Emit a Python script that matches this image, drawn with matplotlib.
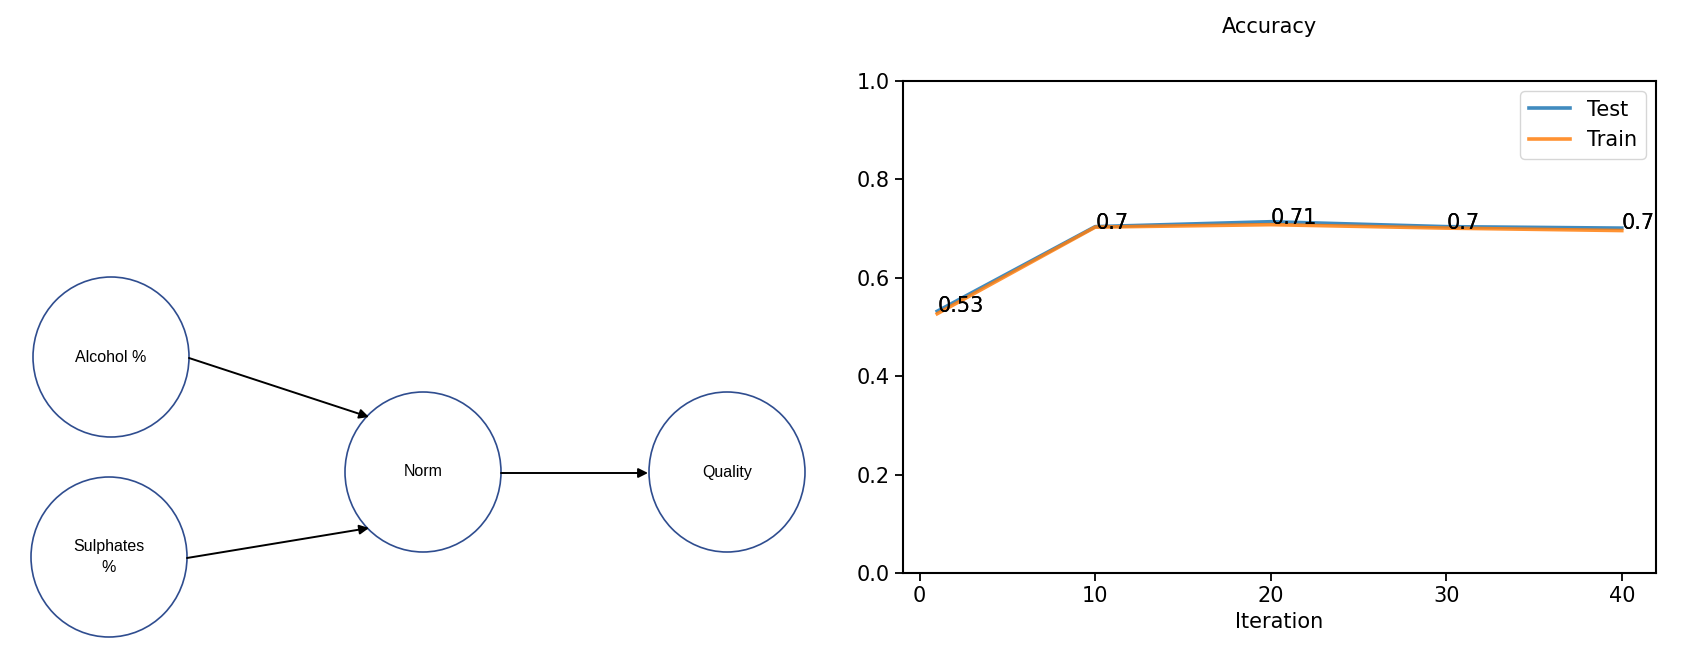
import matplotlib
matplotlib.use("Agg")
import matplotlib.pyplot as plt
from matplotlib.patches import Ellipse, FancyArrowPatch

# ---- data ----
iterations = [1, 10, 20, 30, 40]
test_acc = [0.532, 0.704, 0.714, 0.704, 0.701]
train_acc = [0.527, 0.703, 0.708, 0.701, 0.696]
series_names = ["Test", "Train"]
yticks = [0.0, 0.2, 0.4, 0.6, 0.8, 1.0]
xticks = [0, 10, 20, 30, 40]

node_labels = ["Alcohol %", "Sulphates\n%", "Norm", "Quality"]
edges = [(0, 2), (1, 2), (2, 3)]

# ---- layout (pixel space of the diagram) ----
W, H = 1686, 668
node_pos = [(111, 357), (109, 557), (423, 472), (727, 472)]
rx, ry = 78, 80
arrow_targets = {(0, 2): (369, 417), (1, 2): (369, 528), (2, 3): (648, 473)}

fig = plt.figure(figsize=(W / 100, H / 100), dpi=100)

# diagram
dax = fig.add_axes([0, 0, 1, 1])
dax.set_xlim(0, W)
dax.set_ylim(H, 0)
dax.axis("off")
edge_col = "#2f4d8f"
for (cx, cy), lab in zip(node_pos, node_labels):
    dax.add_patch(Ellipse((cx, cy), 2 * rx, 2 * ry, fill=False, ec=edge_col, lw=1.2))
    dax.text(cx, cy, lab, ha="center", va="center", fontsize=11.5,
             family="Liberation Sans", linespacing=1.55)

for a, b in edges:
    start = (node_pos[a][0] + rx, node_pos[a][1] + 1)
    end = arrow_targets[(a, b)]
    dax.add_patch(FancyArrowPatch(start, end, arrowstyle="-|>", mutation_scale=14,
                                  lw=1.4, color="black", shrinkA=0, shrinkB=0))

# chart
ax = fig.add_axes([903 / W, 1 - 573 / H, (1656 - 903) / W, (573 - 81) / H])
ax.plot(iterations, test_acc, color="#1f77b4", lw=2.6, alpha=0.85, label=series_names[0])
ax.plot(iterations, train_acc, color="#ff7f0e", lw=2.6, alpha=0.85, label=series_names[1])
for series in (test_acc, train_acc):
    for x, y in zip(iterations, series):
        v = round(y, 2)
        ax.annotate(str(v), (x, v), fontsize=15)
ax.set_ylim(0, 1)
ax.set_yticks(yticks)
ax.set_xticks(xticks)
ax.tick_params(labelsize=15, length=6, width=1.3)
for s in ax.spines.values():
    s.set_linewidth(1.5)
ax.set_xlabel("Iteration", fontsize=15, labelpad=4)
ax.legend(loc="upper right", fontsize=15, handlelength=2.0)
fig.text(1269 / W, 1 - 27 / H, "Accuracy", ha="center", va="center", fontsize=15)

fig.savefig("out.png", dpi=100)
